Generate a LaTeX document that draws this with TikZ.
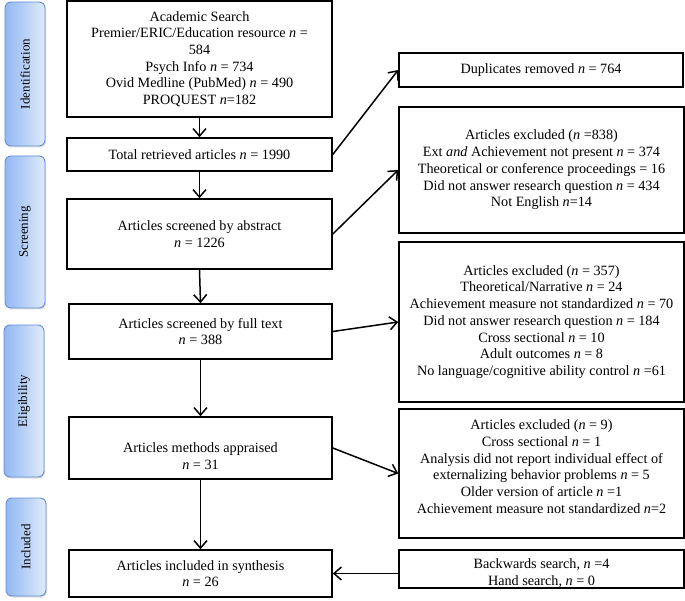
\documentclass[tikz,border=0pt]{standalone}
\usepackage{fontspec}
\setmainfont{Liberation Serif}
\usetikzlibrary{arrows.meta,shadows}
\definecolor{sidetop}{RGB}{224,235,251}
\definecolor{sidebot}{RGB}{146,184,242}
\definecolor{sidebrd}{RGB}{100,142,212}
\begin{document}
\begin{tikzpicture}[x=1pt,y=-1pt,
  box/.style={draw=black, line width=1.6pt, fill=white, inner sep=0pt, align=center,
    font=\fontsize{14.2}{16.7}\selectfont},
  side/.style={draw=sidebrd, line width=0.9pt, rounded corners=6pt, inner sep=0pt,
    left color=sidebot, right color=sidetop, rotate=90,
    drop shadow={opacity=0.25, shadow xshift=1pt, shadow yshift=-1.5pt},
    font=\fontsize{13}{15}\selectfont},
  arr/.style={line width=1.5pt, -{Straight Barb[length=7.5pt,width=13pt,line width=1.5pt]}}]
\useasboundingbox (0,0) rectangle (685,601);
% side labels
\node[side, minimum width=144pt, minimum height=40pt] (sid) at (25,74) {Identification};
\node[side, minimum width=152pt, minimum height=40pt] (sscr) at (25,232) {Screening};
\node[side, minimum width=152pt, minimum height=40pt] (selg) at (24,401) {Eligibility};
\node[side, minimum width=98pt, minimum height=40pt] (sinc) at (26,547) {Included};
% left column
\node[box, minimum width=265pt, minimum height=116pt] (ident) at (199.5,59)
  {Academic Search\\ Premier/ERIC/Education resource \textit{n} =\\ 584\\ Psych Info \textit{n} = 734\\ Ovid Medline (PubMed) \textit{n} = 490\\ PROQUEST \textit{n}=182};
\node[box, minimum width=265pt, minimum height=33pt] (tot) at (199.5,154.5)
  {Total retrieved articles \textit{n} = 1990};
\node[box, minimum width=265pt, minimum height=70pt] (abs) at (199.5,234)
  {Articles screened by abstract\\ \textit{n} = 1226};
\node[box, minimum width=263pt, minimum height=55pt] (full) at (200.5,331.5)
  {Articles screened by full text\\ \textit{n} = 388};
\node[box, minimum width=263pt, minimum height=62pt] (meth) at (200.5,448)
  {\rule{0pt}{26pt}Articles methods appraised\\ \textit{n} = 31};
\node[box, minimum width=263pt, minimum height=47pt] (incl) at (200.5,573.5)
  {Articles included in synthesis\\ \textit{n} = 26};
% right column
\node[box, minimum width=284pt, minimum height=34pt] (dup) at (541,70)
  {Duplicates removed \textit{n} = 764};
\node[box, minimum width=285pt, minimum height=126pt] (ex1) at (541.5,170)
  {Articles excluded (\textit{n} =838)\\ Ext \textit{and} Achievement not present \textit{n} = 374\\ Theoretical or conference proceedings = 16\\ Did not answer research question \textit{n} = 434\\ Not English \textit{n}=14};
\node[box, minimum width=285pt, minimum height=160pt] (ex2) at (541.5,322)
  {Articles excluded (\textit{n} = 357)\\ Theoretical/Narrative \textit{n} = 24\\ Achievement measure not standardized \textit{n} = 70\\ Did not answer research question \textit{n} = 184\\ Cross sectional \textit{n} = 10\\ Adult outcomes \textit{n} = 8\\ No language/cognitive ability control \textit{n} =61};
\node[box, minimum width=285pt, minimum height=129pt] (ex3) at (541.5,473.5)
  {Articles excluded (\textit{n} = 9)\\ Cross sectional \textit{n} = 1\\ Analysis did not report individual effect of\\ externalizing behavior problems \textit{n} = 5\\ Older version of article \textit{n} =1\\ Achievement measure not standardized \textit{n}=2\rule[-14pt]{0pt}{14pt}};
\node[box, minimum width=285pt, minimum height=38pt] (back) at (541.5,569)
  {\rule{0pt}{18pt}Backwards search, \textit{n} =4\\ Hand search, \textit{n} = 0};
% vertical arrows
\draw[arr] (ident.south) -- (tot.north);
\draw[arr] (tot.south) -- (abs.north);
\draw[arr] (abs.south) -- (full.north);
\draw[arr] (full.south) -- (meth.north);
\draw[arr] (meth.south) -- (incl.north);
% side arrows
\draw[arr] (tot.east) -- (dup.west);
\draw[arr] (abs.east) -- (ex1.west);
\draw[arr] (full.east) -- (ex2.west);
\draw[arr] (meth.east) -- (ex3.west);
\draw[arr] (back.west |- incl.east) -- (incl.east);
\end{tikzpicture}
\end{document}
